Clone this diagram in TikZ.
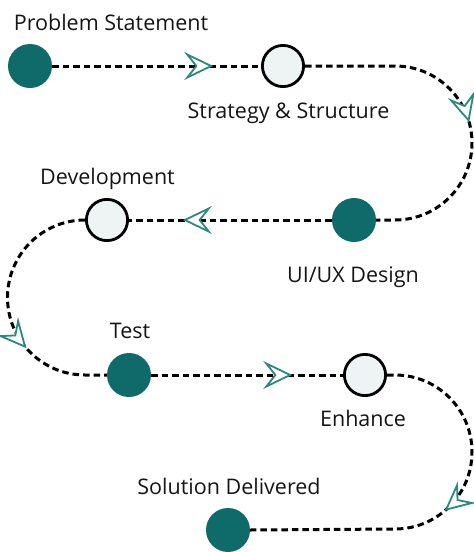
\documentclass[tikz,border=0pt]{standalone}
\usepackage{fontspec}
\setmainfont{Open Sans}
\usetikzlibrary{arrows.meta,decorations.markings}
\definecolor{tealfill}{HTML}{0E6B6A}
\definecolor{lightfill}{HTML}{EEF4F4}
\definecolor{arrowc}{HTML}{2B8A7F}
\definecolor{txt}{HTML}{151515}
\tikzset{
  darkdot/.style={circle, fill=tealfill, draw=none, minimum size=44pt, inner sep=0pt},
  lightdot/.style={circle, fill=lightfill, draw=black, line width=2.8pt, minimum size=41.2pt, inner sep=0pt},
  lbl/.style={anchor=base, text=txt, inner sep=0pt, font=\fontsize{21.5}{26}\selectfont},
  conn/.style={draw=black, line width=3pt, dash pattern=on 6.5pt off 4pt},
  midarrow/.style={postaction={decorate, decoration={markings,
     mark=at position #1 with {\arrow{Stealth[length=29pt, width=28pt, inset=11pt, open, fill=white, line width=1.8pt, color=arrowc]}}}}}
}
\begin{document}
\begin{tikzpicture}[x=1pt, y=-1pt]
\useasboundingbox (0,0) rectangle (474,552);
% nodes
\node[darkdot]  (n1) at (30,66) {};
\node[lightdot] (n2) at (283,66) {};
\node[darkdot]  (n3) at (354,220) {};
\node[lightdot] (n4) at (107,220) {};
\node[darkdot]  (n5) at (129,375) {};
\node[lightdot] (n6) at (365,375) {};
\node[darkdot]  (n7) at (228,530) {};
% labels
\node[lbl] (l1) at (111,30) {Problem Statement};
\node[lbl] (l2) at (288.5,118) {Strategy \& Structure};
\node[lbl] (l3) at (107.5,184) {Development};
\node[lbl] (l4) at (353,282) {UI/UX Design};
\node[lbl] (l5) at (130,338) {Test};
\node[lbl] (l6) at (363,426) {Enhance};
\node[lbl] (l7) at (229,494) {Solution Delivered};
% connectors
\path[conn, midarrow=161pt] (n1) -- (n2);
\path[conn, midarrow=190pt] (n2.east) -- (395,66) arc[start angle=90, end angle=-90, radius=77pt] -- (n3.east);
\path[conn, midarrow=149pt] (n3) -- (n4);
\path[conn, midarrow=177pt] (n4.west) -- (85,220) arc[start angle=90, end angle=270, radius=77.5pt] -- (n5.west);
\path[conn, midarrow=141pt] (n5) -- (n6);
\path[conn, midarrow=196pt] (n6.east) -- (395,375) arc[start angle=90, end angle=-90, radius=77pt] -- (n7.east);
\end{tikzpicture}
\end{document}
